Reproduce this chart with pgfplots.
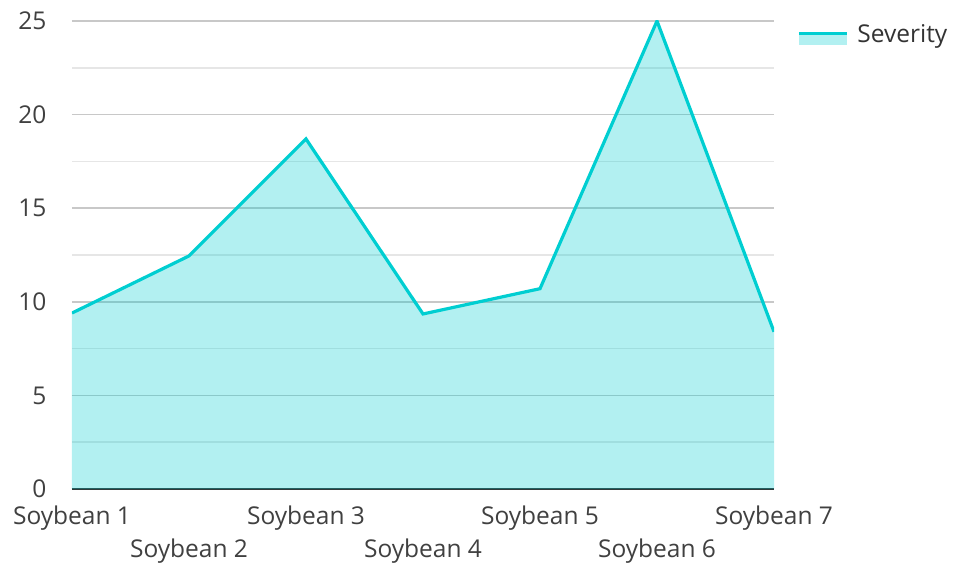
\documentclass[border=0pt]{standalone}
\usepackage{fontspec}
\setmainfont{Open Sans}
\usepackage{pgfplots}
\pgfplotsset{compat=1.18}
\definecolor{turq}{HTML}{00CED1}
\definecolor{majgrid}{HTML}{C8C8C8}
\definecolor{mingrid}{HTML}{E6E6E6}
\definecolor{txt}{HTML}{404040}
\begin{document}
\begin{tikzpicture}[x=1pt,y=1pt]
\path[use as bounding box] (0,0) rectangle (953,563);
\begin{axis}[
  at={(72pt,74pt)}, anchor=south west,
  scale only axis, width=702pt, height=468pt,
  xmin=0, xmax=6, ymin=0, ymax=25,
  /pgf/number format/assume math mode=true,
  font=\fontsize{24.5}{28}\selectfont,
  ytick={0,5,10,15,20,25},
  minor y tick num=1,
  ymajorgrids, yminorgrids,
  major grid style={draw=majgrid, line width=1.6pt},
  minor grid style={draw=mingrid, line width=1.6pt},
  major tick length=0pt, minor tick length=0pt,
  axis x line*=bottom, axis y line*=left,
  separate axis lines,
  x axis line style={draw=black!80, line width=2pt, -},
  y axis line style={draw=none},
  xtick={0,2,4,6},
  xticklabels={Soybean 1,Soybean 3,Soybean 5,Soybean 7},
  extra x ticks={1,3,5},
  extra x tick labels={Soybean 2,Soybean 4,Soybean 6},
  extra x tick style={xticklabel style={yshift=-33pt}},
  xticklabel style={anchor=center, yshift=-29.5pt, text=txt},
  yticklabel style={anchor=east, xshift=-22pt, text=txt},
  legend style={at={(1,1)}, anchor=north west, xshift=20pt, yshift=1pt, draw=none, fill=none,
    font=\fontsize{24.5}{28}\selectfont, text=black!80},
  legend image code/.code={
    \path[fill=turq, fill opacity=0.3, draw=none] (0pt,-11pt) rectangle (48pt,-1pt);
    \path[draw=turq, line width=3.2pt, draw opacity=1] (0pt,0.5pt) -- (48pt,0.5pt);
  },
]
\addplot[draw=none, fill=turq, fill opacity=0.3, forget plot]
  coordinates {(0,9.4) (1,12.45) (2,18.7) (3,9.35) (4,10.7) (5,25) (6,8.4)} \closedcycle;
\addplot[draw=turq, line width=3.2pt]
  coordinates {(0,9.4) (1,12.45) (2,18.7) (3,9.35) (4,10.7) (5,25) (6,8.4)};
\addlegendentry{\hspace{7pt}Severity}
\end{axis}
\end{tikzpicture}
\end{document}
